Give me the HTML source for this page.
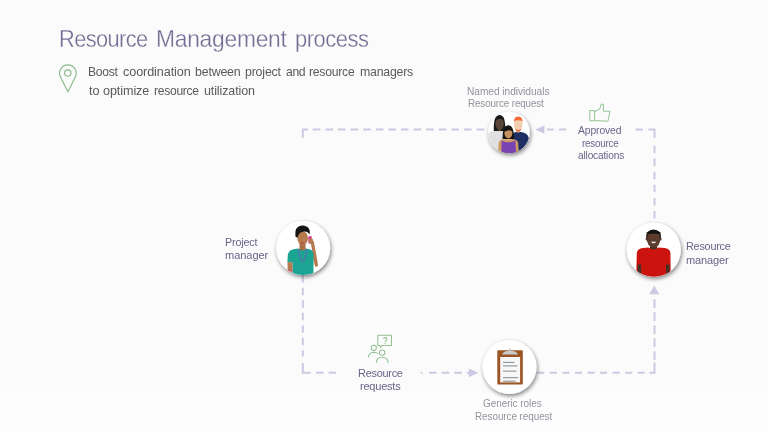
<!DOCTYPE html>
<html><head><meta charset="utf-8">
<style>
html,body{margin:0;padding:0;}
body{width:768px;height:432px;overflow:hidden;position:relative;background:#fbfbfb;font-family:"Liberation Sans",sans-serif;}
.bot{position:absolute;left:0;top:392px;width:768px;height:40px;background:#fdfdfd;}
.t{position:absolute;white-space:nowrap;transform-origin:0 0;}
svg{position:absolute;left:0;top:0;}
</style></head>
<body>
<div class="bot"></div>
<div id="wrap" style="position:absolute;left:0;top:0;width:768px;height:432px;filter:blur(0.3px)">
<svg width="768" height="432" viewBox="0 0 768 432">
<defs>
  <filter id="sh" x="-30%" y="-30%" width="160%" height="160%">
    <feGaussianBlur in="SourceAlpha" stdDeviation="2.3"/>
    <feOffset dx="1.2" dy="2.2" result="o"/>
    <feComponentTransfer><feFuncA type="linear" slope="0.5"/></feComponentTransfer>
    <feMerge><feMergeNode/><feMergeNode in="SourceGraphic"/></feMerge>
  </filter>
  <clipPath id="cpPM"><circle cx="303.2" cy="248" r="27"/></clipPath>
  <clipPath id="cpRM"><circle cx="653.8" cy="249.8" r="27"/></clipPath>
  <clipPath id="cpNI"><circle cx="509" cy="132.5" r="20.7"/></clipPath>
  <clipPath id="cpGR"><circle cx="509.5" cy="367" r="27"/></clipPath>
</defs>
<g fill="none" stroke="#cfc8e2" stroke-width="2">
  <path d="M302.8 137.8 V129.6 H307.8"/>
  <path d="M312.8 129.6 H484.2" stroke-dasharray="7.6 5"/>
  <path d="M546.8 129.6 H566" stroke-dasharray="7 5.3"/>
  <path d="M635.6 129.6 H643"/>
  <path d="M648.4 129.6 H654.5 V138"/>
  <path d="M654.5 145.5 V224" stroke-dasharray="7.5 5.6"/>
  <path d="M302.8 275.3 V356.5" stroke-dasharray="7.5 5"/>
  <path d="M302.8 363 V372.8 H310.8"/>
  <path d="M316 372.8 H336" stroke-dasharray="7.5 5.1"/>
  <path d="M429 372.8 H469.4" stroke-dasharray="7.6 5"/>
  <path d="M537.3 372.8 H645" stroke-dasharray="7 5.55"/>
  <path d="M649.4 372.8 H654.5 V362.5"/>
  <path d="M654.5 360 V296" stroke-dasharray="8.8 4.2"/>
</g>
<g fill="#cfc8e2">
  <path d="M535.4 129.6 L544.4 125.4 L544.4 133.8 Z"/>
  <path d="M478.5 372.8 L468.8 368.4 L468.8 377.2 Z"/>
  <path d="M654.3 285.6 L649.3 294.2 L659.3 294.2 Z"/>
</g>
<circle cx="421.5" cy="372.8" r="1.2" fill="#ddd6ea"/>

<!-- pin icon -->
<g fill="none" stroke="#8cba88" stroke-width="1.15" stroke-linejoin="round">
  <path d="M67.9 91.8 L60.5 77 A8.3 8.3 0 1 1 75.3 77 Z"/>
  <circle cx="67.8" cy="73" r="3.2"/>
</g>

<!-- Project manager avatar -->
<g filter="url(#sh)"><circle cx="303.2" cy="248" r="27" fill="#fff"/></g>
<g clip-path="url(#cpPM)">
  <!-- raised arm -->
  <path d="M313.2 252 L316.4 265 L312.4 242.5" fill="none" stroke="#b57a4e" stroke-width="3.3" stroke-linecap="round" stroke-linejoin="round"/>
  <!-- shirt -->
  <path d="M287.4 262.4 L287.8 255 Q288.4 250.2 293.4 249.2 L298.4 248.6 Q302.4 250.6 306.2 248.6 L310.4 249.4 Q313.4 250.6 313.6 254.5 L313.4 280 L292.4 280 L292.4 262.4 Z" fill="#1ba394"/>
  <!-- left arm -->
  <path d="M287.5 262.3 L292.4 262.3 L292.4 272.5 L287.6 272.5 Z" fill="#b57a4e"/>
  <path d="M287.6 270.6 H292.4" stroke="#e0408a" stroke-width="0.9"/>
  <!-- neck -->
  <path d="M299.5 243 H305.5 V249.5 Q302.5 251.5 299.5 249.5 Z" fill="#a86e45"/>
  <!-- necklace -->
  <path d="M298.5 249 Q300 260 302.5 262 Q305.5 260 306.5 249" fill="none" stroke="#6a62b0" stroke-width="1"/>
  <!-- face -->
  <ellipse cx="302.7" cy="238.2" rx="5.3" ry="6.9" fill="#b57a4e"/>
  <!-- hair -->
  <path d="M295.6 237 Q294.6 230.5 297 227.8 Q299.8 225.2 303.2 225.6 Q307.8 226 309.4 229.6 Q310.2 232 309.6 234.6 Q308 231.6 304.4 231.6 Q300.4 231.8 298.6 234.6 L297.8 237.6 Z" fill="#141414"/>
  <!-- lips -->
  <path d="M300.8 243 H303.6" stroke="#c03030" stroke-width="0.9"/>
  <!-- phone -->
  <path d="M308.2 236.5 L311.5 236 L312 243 L308.5 243.5 Z" fill="#d8348a"/>
  <!-- hand -->
  <ellipse cx="311" cy="241" rx="2" ry="3" fill="#b57a4e"/>
</g>

<!-- Resource manager avatar -->
<g filter="url(#sh)"><circle cx="653.8" cy="249.8" r="27" fill="#fff"/></g>
<g clip-path="url(#cpRM)">
  <path d="M636.2 278 L636.8 253 Q637.4 248.4 643 248 L648.4 247.6 Q653.6 250.2 658.8 247.6 L664.4 248 Q670 248.4 670.4 253 L670.8 278 Z" fill="#cc140f"/>
  <path d="M637.6 264.5 H641.2 V274 H637.6 Z" fill="#4a3024"/>
  <path d="M666 264.5 H669.6 V274 H666 Z" fill="#4a3024"/>
  <path d="M650 242 H657.2 V248.6 Q653.6 250.6 650 248.6 Z" fill="#4a3024"/>
  <path d="M646.6 232 L646.6 237 Q646.6 246.8 653.6 247.6 Q660.6 246.8 660.6 237 L660.6 232 Z" fill="#5c3c2c"/>
  <ellipse cx="646.5" cy="239" rx="0.9" ry="1.6" fill="#5c3c2c"/>
  <ellipse cx="660.7" cy="239" rx="0.9" ry="1.6" fill="#5c3c2c"/>
  <path d="M646.4 238.4 Q645.8 229.6 653.6 229.4 Q661.4 229.6 660.8 238.4 L659.8 238.4 L659.6 234.2 Q653.6 233 647.6 234.2 L647.4 238.4 Z" fill="#121212"/>
  <path d="M650.9 241.8 Q653.6 244.8 656.3 241.8 Z" fill="#fff"/>
</g>

<!-- Named individuals avatar -->
<g filter="url(#sh)"><circle cx="509" cy="132.5" r="20.7" fill="#fff"/></g>
<g clip-path="url(#cpNI)">
  <!-- left woman -->
  <path d="M486 156 L487.5 136 Q488.5 131.5 494 131 L498 130.6 Q499.5 132.2 501 130.6 L503.5 131.2 L504 156 Z" fill="#e0e0e2"/>
  <path d="M497 130.6 L499.4 133.6 L501.6 130.6 Z" fill="#f2f2f2"/>
  <path d="M493.8 131 Q493.2 115 499.5 115 Q505.8 115 505.3 131 Z" fill="#1a1a1a"/>
  <rect x="497.8" y="127" width="3.4" height="4.2" fill="#56402f"/>
  <ellipse cx="499.6" cy="123.6" rx="4.2" ry="6.1" fill="#5a4638"/>
  <path d="M495.2 120.4 Q495.6 116 499.6 116 Q504 116 504.2 120.2 Q500.5 117.8 495.2 120.4 Z" fill="#1a1a1a"/>
  <!-- man -->
  <path d="M512 156 L512.3 135 Q513 132.4 516.5 132 L521 132 Q527.8 133 528.8 138 L530 156 Z" fill="#1e2f63"/>
  <rect x="516.2" y="128" width="3.6" height="4.4" fill="#e9bf9f"/>
  <ellipse cx="518.2" cy="125.2" rx="4.1" ry="5.6" fill="#f2cdb0"/>
  <path d="M515.2 128.4 Q515.8 131.6 518.2 131.6 Q520.6 131.6 521.2 128.4 Q519.8 130 518.2 130 Q516.6 130 515.2 128.4 Z" fill="#e2683c"/>
  <path d="M513.9 124 Q513.2 116.6 518.2 116.6 Q523.2 116.6 522.5 124 L522 121 Q518.2 119.6 514.4 121 Z" fill="#f26a35"/>
  <!-- middle woman -->
  <path d="M502.6 139 Q502.2 125.3 508.3 125.3 Q514.4 125.3 514 139 Z" fill="#141414"/>
  <path d="M497.8 156 L498.6 143 Q499.4 139.4 503.5 139.2 L513 139.2 Q517.4 139.4 518.2 143 L519 156 Z" fill="#d09862"/>
  <path d="M501.4 156 L501.6 140.4 Q508.3 144.2 515.4 140.4 L516.2 156 Z" fill="#7844b2"/>
  <ellipse cx="508.4" cy="133" rx="4" ry="5.4" fill="#c99060"/>
  <path d="M504.4 132 Q504 127 508.4 127 Q512.6 127 512.4 131.4 Q509 128.6 504.4 132 Z" fill="#141414"/>
</g>

<!-- Generic roles avatar -->
<g filter="url(#sh)"><circle cx="509.5" cy="367" r="27" fill="#fff"/></g>
<g>
  <rect x="497.3" y="350.2" width="25.5" height="34.4" rx="0.8" fill="#9c5626"/>
  <rect x="500.2" y="357" width="19.9" height="25.4" fill="#f7f7f7"/>
  <path d="M502 354.6 Q503 350.8 510 350.8 Q517 350.8 518 354.6 Z" fill="#c9c9c9"/>
  <rect x="509" y="348.6" width="2" height="2.6" fill="#c9c9c9"/>
  <g stroke="#5e666e" stroke-width="0.75">
    <path d="M503 362.4 H514.4"/>
    <path d="M503 365.9 H517.4"/>
    <path d="M503 371.1 H516.4"/>
    <path d="M503 377.7 H518"/>
    <path d="M503 381.2 H515.4"/>
  </g>
</g>

<!-- Thumbs up icon -->
<g fill="none" stroke="#92c290" stroke-width="1" stroke-linejoin="round">
  <rect x="589.8" y="110.6" width="4.8" height="10.2"/>
  <path d="M594.6 111.8 L599.6 109.2 L601.2 104.2 L603.4 104.2 L603.4 111.2 L610 111.2 L607.9 121.2 L594.6 120.6"/>
</g>

<!-- Resource requests icon -->
<g fill="none" stroke="#95c092" stroke-width="1.05" stroke-linejoin="round">
  <path d="M377.8 335.3 H391.5 V345.4 H381.8 L380.6 347.4 L379.6 345.4 H377.8 Z"/>
  <circle cx="373.8" cy="347.8" r="2.6"/>
  <path d="M368.2 357.4 Q368.8 352.4 373.8 352.2 Q376.8 352.2 378.2 353.6"/>
  <circle cx="382.2" cy="352.6" r="2.7"/>
  <path d="M376.2 363 Q376.6 357.2 382.2 357.2 Q387.8 357.2 388.2 363"/>
  <path d="M383.5 339 Q383.6 337.6 385.3 337.6 Q387 337.6 387 339.1 Q387 340.2 385.9 340.8 Q385.2 341.2 385.2 342.3" stroke-width="1.1"/>
</g>
<circle cx="385.2" cy="343.6" r="0.65" fill="#95c092"/>
</svg>
<div class="t" style="left:59.27px;top:28.19px;font-size:23.4px;line-height:23.4px;letter-spacing:-0.639px;color:#736b92;transform:scaleX(0.9324);-webkit-text-stroke:0.3px #fbfbfb">Resource</div>
<div class="t" style="left:155.63px;top:28.19px;font-size:23.4px;line-height:23.4px;letter-spacing:-0.253px;color:#736b92;transform:scaleX(0.9750);-webkit-text-stroke:0.3px #fbfbfb">Management</div>
<div class="t" style="left:294.66px;top:28.19px;font-size:23.4px;line-height:23.4px;letter-spacing:-0.544px;color:#736b92;transform:scaleX(0.9396);-webkit-text-stroke:0.3px #fbfbfb">process</div>
<div class="t" style="left:87.66px;top:66.08px;font-size:12.9px;line-height:12.9px;letter-spacing:-0.317px;color:#5a5a5a;transform:scaleX(0.9418)">Boost</div>
<div class="t" style="left:122.50px;top:66.08px;font-size:12.9px;line-height:12.9px;letter-spacing:-0.090px;color:#5a5a5a;transform:scaleX(0.9788)">coordination</div>
<div class="t" style="left:194.60px;top:66.08px;font-size:12.9px;line-height:12.9px;letter-spacing:-0.208px;color:#5a5a5a;transform:scaleX(0.9616)">between</div>
<div class="t" style="left:244.70px;top:66.08px;font-size:12.9px;line-height:12.9px;letter-spacing:-0.185px;color:#5a5a5a;transform:scaleX(0.9578)">project</div>
<div class="t" style="left:285.90px;top:66.08px;font-size:12.9px;line-height:12.9px;letter-spacing:-0.378px;color:#5a5a5a;transform:scaleX(0.9474)">and</div>
<div class="t" style="left:309.30px;top:66.08px;font-size:12.9px;line-height:12.9px;letter-spacing:-0.257px;color:#5a5a5a;transform:scaleX(0.9464)">resource</div>
<div class="t" style="left:359.50px;top:66.08px;font-size:12.9px;line-height:12.9px;letter-spacing:-0.238px;color:#5a5a5a;transform:scaleX(0.9564)">managers</div>
<div class="t" style="left:88.60px;top:85.08px;font-size:12.9px;line-height:12.9px;letter-spacing:-0.073px;color:#5a5a5a;transform:scaleX(0.9897)">to</div>
<div class="t" style="left:102.90px;top:85.08px;font-size:12.9px;line-height:12.9px;letter-spacing:-0.094px;color:#5a5a5a;transform:scaleX(0.9794)">optimize</div>
<div class="t" style="left:153.70px;top:85.08px;font-size:12.9px;line-height:12.9px;letter-spacing:-0.300px;color:#5a5a5a;transform:scaleX(0.9377)">resource</div>
<div class="t" style="left:203.70px;top:85.08px;font-size:12.9px;line-height:12.9px;letter-spacing:-0.113px;color:#5a5a5a;transform:scaleX(0.9686)">utilization</div>
<div class="t" style="left:466.80px;top:87.37px;font-size:10.2px;line-height:10.2px;letter-spacing:-0.019px;color:#94929e;transform:scaleX(0.9946)">Named individuals</div>
<div class="t" style="left:468.00px;top:99.37px;font-size:10.2px;line-height:10.2px;letter-spacing:-0.124px;color:#94929e;transform:scaleX(0.9655)">Resource request</div>
<div class="t" style="left:578.30px;top:125.03px;font-size:10.6px;line-height:10.6px;letter-spacing:-0.107px;color:#6c638a;transform:scaleX(0.9753)">Approved</div>
<div class="t" style="left:582.00px;top:138.03px;font-size:10.6px;line-height:10.6px;letter-spacing:-0.261px;color:#6c638a;transform:scaleX(0.9343)">resource</div>
<div class="t" style="left:577.50px;top:150.03px;font-size:10.6px;line-height:10.6px;letter-spacing:-0.158px;color:#6c638a;transform:scaleX(0.9527)">allocations</div>
<div class="t" style="left:224.70px;top:236.52px;font-size:11.2px;line-height:11.2px;letter-spacing:-0.164px;color:#6c638a;transform:scaleX(0.9589)">Project</div>
<div class="t" style="left:224.70px;top:249.52px;font-size:11.2px;line-height:11.2px;letter-spacing:-0.062px;color:#6c638a;transform:scaleX(0.9874)">manager</div>
<div class="t" style="left:686.10px;top:241.35px;font-size:11.4px;line-height:11.4px;letter-spacing:-0.229px;color:#6c638a;transform:scaleX(0.9507)">Resource</div>
<div class="t" style="left:686.10px;top:255.35px;font-size:11.4px;line-height:11.4px;letter-spacing:-0.153px;color:#6c638a;transform:scaleX(0.9696)">manager</div>
<div class="t" style="left:357.70px;top:367.18px;font-size:11.6px;line-height:11.6px;letter-spacing:-0.275px;color:#6c638a;transform:scaleX(0.9419)">Resource</div>
<div class="t" style="left:359.70px;top:380.18px;font-size:11.6px;line-height:11.6px;letter-spacing:-0.221px;color:#6c638a;transform:scaleX(0.9485)">requests</div>
<div class="t" style="left:482.60px;top:399.37px;font-size:10.2px;line-height:10.2px;letter-spacing:-0.064px;color:#94929e;transform:scaleX(0.9811)">Generic roles</div>
<div class="t" style="left:474.80px;top:412.37px;font-size:10.2px;line-height:10.2px;letter-spacing:-0.086px;color:#94929e;transform:scaleX(0.9761)">Resource request</div>
</div>
</body></html>
